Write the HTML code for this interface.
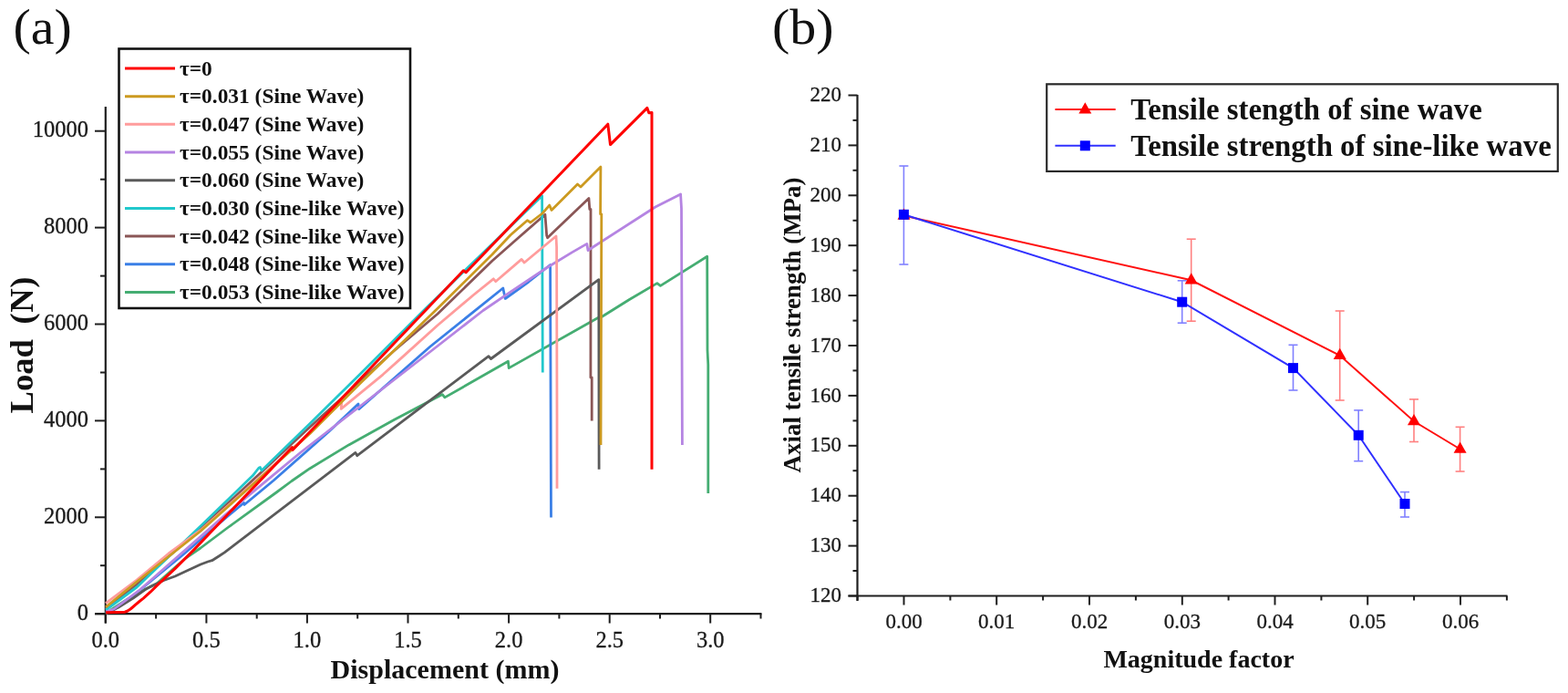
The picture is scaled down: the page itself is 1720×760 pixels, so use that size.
<!DOCTYPE html>
<html><head><meta charset="utf-8"><title>Figure</title><style>html,body{margin:0;padding:0;background:#fff;}
svg{display:block}
text{font-family:&quot;Liberation Serif&quot;,&quot;Times New Roman&quot;,serif;fill:#1a1a1a}
.tk{font-size:24.5px;stroke:#1a1a1a;stroke-width:0.3px}
.tkb{font-size:23px;stroke:#1a1a1a;stroke-width:0.3px}
.lg{font-size:23.4px;font-weight:bold;fill:#111}
.lgb{font-size:32.85px;font-weight:bold;fill:#111}
.ttA{font-size:36.6px;font-weight:bold;fill:#111}
.ttX{font-size:30px;font-weight:bold;fill:#111}
.ttB{font-size:27px;font-weight:bold;fill:#111}
.ttM{font-size:28px;font-weight:bold;fill:#111}
.pl{font-size:56px;fill:#111}
</style></head>
<body><svg width="1720" height="760" viewBox="0 0 1720 760">
<rect width="1720" height="760" fill="#fff"/>
<line x1="115.8" y1="117" x2="115.8" y2="683.5" stroke="#1e1e1e" stroke-width="2.2"/>
<line x1="104" y1="673.2" x2="835.5" y2="673.2" stroke="#1e1e1e" stroke-width="2.2"/>
<line x1="104" y1="673.2" x2="115.8" y2="673.2" stroke="#1e1e1e" stroke-width="2"/>
<text x="97" y="679.6" text-anchor="end" class="tk">0</text>
<line x1="110" y1="620.2" x2="115.8" y2="620.2" stroke="#1e1e1e" stroke-width="2"/>
<line x1="104" y1="567.3" x2="115.8" y2="567.3" stroke="#1e1e1e" stroke-width="2"/>
<text x="97" y="573.7" text-anchor="end" class="tk">2000</text>
<line x1="110" y1="514.4" x2="115.8" y2="514.4" stroke="#1e1e1e" stroke-width="2"/>
<line x1="104" y1="461.4" x2="115.8" y2="461.4" stroke="#1e1e1e" stroke-width="2"/>
<text x="97" y="467.8" text-anchor="end" class="tk">4000</text>
<line x1="110" y1="408.5" x2="115.8" y2="408.5" stroke="#1e1e1e" stroke-width="2"/>
<line x1="104" y1="355.5" x2="115.8" y2="355.5" stroke="#1e1e1e" stroke-width="2"/>
<text x="97" y="361.9" text-anchor="end" class="tk">6000</text>
<line x1="110" y1="302.6" x2="115.8" y2="302.6" stroke="#1e1e1e" stroke-width="2"/>
<line x1="104" y1="249.6" x2="115.8" y2="249.6" stroke="#1e1e1e" stroke-width="2"/>
<text x="97" y="256.0" text-anchor="end" class="tk">8000</text>
<line x1="110" y1="196.7" x2="115.8" y2="196.7" stroke="#1e1e1e" stroke-width="2"/>
<line x1="104" y1="143.7" x2="115.8" y2="143.7" stroke="#1e1e1e" stroke-width="2"/>
<text x="97" y="150.1" text-anchor="end" class="tk">10000</text>
<line x1="115.8" y1="673.2" x2="115.8" y2="683.5" stroke="#1e1e1e" stroke-width="2"/>
<text x="115.8" y="710" text-anchor="middle" class="tk">0.0</text>
<line x1="171.1" y1="673.2" x2="171.1" y2="678.5" stroke="#1e1e1e" stroke-width="2"/>
<line x1="226.4" y1="673.2" x2="226.4" y2="683.5" stroke="#1e1e1e" stroke-width="2"/>
<text x="226.4" y="710" text-anchor="middle" class="tk">0.5</text>
<line x1="281.7" y1="673.2" x2="281.7" y2="678.5" stroke="#1e1e1e" stroke-width="2"/>
<line x1="336.9" y1="673.2" x2="336.9" y2="683.5" stroke="#1e1e1e" stroke-width="2"/>
<text x="336.9" y="710" text-anchor="middle" class="tk">1.0</text>
<line x1="392.2" y1="673.2" x2="392.2" y2="678.5" stroke="#1e1e1e" stroke-width="2"/>
<line x1="447.5" y1="673.2" x2="447.5" y2="683.5" stroke="#1e1e1e" stroke-width="2"/>
<text x="447.5" y="710" text-anchor="middle" class="tk">1.5</text>
<line x1="502.8" y1="673.2" x2="502.8" y2="678.5" stroke="#1e1e1e" stroke-width="2"/>
<line x1="558.1" y1="673.2" x2="558.1" y2="683.5" stroke="#1e1e1e" stroke-width="2"/>
<text x="558.1" y="710" text-anchor="middle" class="tk">2.0</text>
<line x1="613.4" y1="673.2" x2="613.4" y2="678.5" stroke="#1e1e1e" stroke-width="2"/>
<line x1="668.7" y1="673.2" x2="668.7" y2="683.5" stroke="#1e1e1e" stroke-width="2"/>
<text x="668.7" y="710" text-anchor="middle" class="tk">2.5</text>
<line x1="724.0" y1="673.2" x2="724.0" y2="678.5" stroke="#1e1e1e" stroke-width="2"/>
<line x1="779.2" y1="673.2" x2="779.2" y2="683.5" stroke="#1e1e1e" stroke-width="2"/>
<text x="779.2" y="710" text-anchor="middle" class="tk">3.0</text>
<line x1="834.5" y1="673.2" x2="834.5" y2="678.5" stroke="#1e1e1e" stroke-width="2"/>
<polyline points="116.0,672.5 140.0,657.0 160.0,646.0 171.9,640.0 190.0,624.0 203.4,612.3 220.0,601.0 250.0,578.5 303.2,540.0 320.0,527.5 340.0,513.7 382.6,487.9 432.6,460.3 485.3,432.6 487.9,435.9 557.4,396.3 558.2,403.6 656.0,348.5 660.0,347.5 690.0,328.8 720.8,310.6 724.5,313.4 775.7,281.2 776.0,384.0 776.8,400.0 776.8,541.0" fill="none" stroke="#45ad72" stroke-width="2.8" stroke-linejoin="round" stroke-linecap="butt"/>
<polyline points="116.0,672.5 124.0,669.4 150.0,650.0 200.0,609.0 250.0,566.0 267.5,551.5 268.0,553.5 300.0,527.0 360.0,474.0 393.0,443.0 393.7,448.7 472.0,380.0 551.8,316.0 554.2,327.5 580.0,309.0 603.6,290.5 604.5,567.4" fill="none" stroke="#3a7fe6" stroke-width="2.8" stroke-linejoin="round" stroke-linecap="butt"/>
<polyline points="116.0,667.5 150.0,641.0 220.0,579.7 340.0,468.3 431.0,385.7 480.0,344.2 540.0,286.0 569.5,260.0 597.9,235.2 599.7,258.3 600.6,260.7 645.9,217.4 646.8,229.5 648.0,229.5 647.9,414.0 649.2,414.0 649.2,461.6" fill="none" stroke="#8a5656" stroke-width="2.8" stroke-linejoin="round" stroke-linecap="butt"/>
<polyline points="116.0,669.0 150.0,644.0 220.0,577.0 277.3,521.6 284.0,513.0 285.4,512.5 287.0,516.0 340.0,464.5 395.3,410.0 467.0,338.2 560.0,248.2 594.6,214.8 595.3,408.4" fill="none" stroke="#22c8cc" stroke-width="2.8" stroke-linejoin="round" stroke-linecap="butt"/>
<polyline points="116.0,673.0 130.0,666.0 146.0,656.0 160.0,646.0 166.7,642.4 179.6,636.5 192.0,632.0 220.0,619.0 228.0,616.0 232.6,614.7 240.0,610.0 246.3,605.8 389.9,496.4 391.8,499.7 536.0,390.7 538.5,393.5 656.8,306.7 657.1,514.7" fill="none" stroke="#5a5a5a" stroke-width="2.8" stroke-linejoin="round" stroke-linecap="butt"/>
<polyline points="116.0,671.0 125.0,668.0 152.4,647.7 248.3,563.6 330.0,496.0 479.3,380.0 530.0,340.5 560.0,320.1 600.0,293.5 627.3,276.9 643.8,267.4 645.0,274.5 718.9,227.0 746.6,213.0 747.5,228.7 748.4,487.9" fill="none" stroke="#b584e2" stroke-width="2.8" stroke-linejoin="round" stroke-linecap="butt"/>
<polyline points="116.0,661.7 150.0,636.0 185.0,607.0 220.0,581.5 280.0,528.0 340.0,474.5 374.8,440.5 374.2,448.3 420.0,410.8 440.0,392.9 480.0,356.7 520.0,323.0 541.3,305.8 543.7,308.7 572.1,284.4 575.1,288.0 610.0,259.0 610.6,271.0 611.0,455.0 611.0,535.8" fill="none" stroke="#ff9c9c" stroke-width="2.8" stroke-linejoin="round" stroke-linecap="butt"/>
<polyline points="116.0,665.8 150.0,638.0 220.0,582.5 280.0,529.0 340.0,475.5 395.5,420.0 480.0,338.3 540.0,279.0 560.0,257.7 578.4,241.7 581.9,244.0 595.0,234.0 602.7,225.1 605.0,230.4 633.5,202.0 637.0,205.0 658.9,183.0 658.6,234.8 659.8,234.8 659.0,487.9" fill="none" stroke="#cc9a20" stroke-width="2.8" stroke-linejoin="round" stroke-linecap="butt"/>
<polyline points="116.0,671.8 137.0,671.2 140.0,670.0 143.0,668.0 146.0,665.5 149.0,662.9 153.0,659.5 157.3,656.1 165.0,649.2 171.9,642.4 192.0,623.6 212.0,603.6 320.4,490.5 321.0,493.5 508.3,296.8 511.2,298.8 666.8,136.2 669.5,158.6 709.9,118.4 711.8,123.7 715.0,123.4 715.0,514.7" fill="none" stroke="#ff0000" stroke-width="3" stroke-linejoin="round" stroke-linecap="butt"/>
<rect x="130.5" y="53.5" width="319.5" height="284.5" fill="#fff" stroke="#111" stroke-width="2.6"/>
<line x1="137" y1="75.0" x2="192" y2="75.0" stroke="#ff0000" stroke-width="3"/>
<text x="197" y="82.6" class="lg">τ=0</text>
<line x1="137" y1="105.7" x2="192" y2="105.7" stroke="#cc9a20" stroke-width="3"/>
<text x="197" y="113.3" class="lg">τ=0.031 (Sine Wave)</text>
<line x1="137" y1="136.3" x2="192" y2="136.3" stroke="#ff9c9c" stroke-width="3"/>
<text x="197" y="143.9" class="lg">τ=0.047 (Sine Wave)</text>
<line x1="137" y1="167.0" x2="192" y2="167.0" stroke="#b584e2" stroke-width="3"/>
<text x="197" y="174.6" class="lg">τ=0.055 (Sine Wave)</text>
<line x1="137" y1="197.7" x2="192" y2="197.7" stroke="#5a5a5a" stroke-width="3"/>
<text x="197" y="205.3" class="lg">τ=0.060 (Sine Wave)</text>
<line x1="137" y1="228.4" x2="192" y2="228.4" stroke="#22c8cc" stroke-width="3"/>
<text x="197" y="236.0" class="lg">τ=0.030 (Sine-like Wave)</text>
<line x1="137" y1="259.0" x2="192" y2="259.0" stroke="#8a5656" stroke-width="3"/>
<text x="197" y="266.6" class="lg">τ=0.042 (Sine-like Wave)</text>
<line x1="137" y1="289.7" x2="192" y2="289.7" stroke="#3a7fe6" stroke-width="3"/>
<text x="197" y="297.3" class="lg">τ=0.048 (Sine-like Wave)</text>
<line x1="137" y1="320.4" x2="192" y2="320.4" stroke="#45ad72" stroke-width="3"/>
<text x="197" y="328.0" class="lg">τ=0.053 (Sine-like Wave)</text>
<text transform="translate(36.3,453.5) rotate(-90)" class="ttA">Load</text>
<text transform="translate(36.3,355.5) rotate(-90)" class="ttA" style="letter-spacing:0.6px">(N)</text>
<text x="488" y="743.8" text-anchor="middle" class="ttX">Displacement (mm)</text>
<text transform="translate(14.4,47.8) scale(1.035,0.975)" class="pl">(a)</text>
<text transform="translate(846.9,47.8) scale(1.035,0.975)" class="pl">(b)</text>
<line x1="940.5" y1="104" x2="940.5" y2="659" stroke="#1e1e1e" stroke-width="2.2"/>
<line x1="930.5" y1="653.5" x2="1653.5" y2="653.5" stroke="#1e1e1e" stroke-width="2.2"/>
<line x1="930.5" y1="653.5" x2="940.5" y2="653.5" stroke="#1e1e1e" stroke-width="2"/>
<text x="923" y="660.1" text-anchor="end" class="tkb">120</text>
<line x1="935.5" y1="626.0" x2="940.5" y2="626.0" stroke="#1e1e1e" stroke-width="2"/>
<line x1="930.5" y1="598.6" x2="940.5" y2="598.6" stroke="#1e1e1e" stroke-width="2"/>
<text x="923" y="605.2" text-anchor="end" class="tkb">130</text>
<line x1="935.5" y1="571.1" x2="940.5" y2="571.1" stroke="#1e1e1e" stroke-width="2"/>
<line x1="930.5" y1="543.7" x2="940.5" y2="543.7" stroke="#1e1e1e" stroke-width="2"/>
<text x="923" y="550.3" text-anchor="end" class="tkb">140</text>
<line x1="935.5" y1="516.2" x2="940.5" y2="516.2" stroke="#1e1e1e" stroke-width="2"/>
<line x1="930.5" y1="488.8" x2="940.5" y2="488.8" stroke="#1e1e1e" stroke-width="2"/>
<text x="923" y="495.4" text-anchor="end" class="tkb">150</text>
<line x1="935.5" y1="461.4" x2="940.5" y2="461.4" stroke="#1e1e1e" stroke-width="2"/>
<line x1="930.5" y1="433.9" x2="940.5" y2="433.9" stroke="#1e1e1e" stroke-width="2"/>
<text x="923" y="440.5" text-anchor="end" class="tkb">160</text>
<line x1="935.5" y1="406.4" x2="940.5" y2="406.4" stroke="#1e1e1e" stroke-width="2"/>
<line x1="930.5" y1="379.0" x2="940.5" y2="379.0" stroke="#1e1e1e" stroke-width="2"/>
<text x="923" y="385.6" text-anchor="end" class="tkb">170</text>
<line x1="935.5" y1="351.6" x2="940.5" y2="351.6" stroke="#1e1e1e" stroke-width="2"/>
<line x1="930.5" y1="324.1" x2="940.5" y2="324.1" stroke="#1e1e1e" stroke-width="2"/>
<text x="923" y="330.7" text-anchor="end" class="tkb">180</text>
<line x1="935.5" y1="296.6" x2="940.5" y2="296.6" stroke="#1e1e1e" stroke-width="2"/>
<line x1="930.5" y1="269.2" x2="940.5" y2="269.2" stroke="#1e1e1e" stroke-width="2"/>
<text x="923" y="275.8" text-anchor="end" class="tkb">190</text>
<line x1="935.5" y1="241.8" x2="940.5" y2="241.8" stroke="#1e1e1e" stroke-width="2"/>
<line x1="930.5" y1="214.3" x2="940.5" y2="214.3" stroke="#1e1e1e" stroke-width="2"/>
<text x="923" y="220.9" text-anchor="end" class="tkb">200</text>
<line x1="935.5" y1="186.8" x2="940.5" y2="186.8" stroke="#1e1e1e" stroke-width="2"/>
<line x1="930.5" y1="159.4" x2="940.5" y2="159.4" stroke="#1e1e1e" stroke-width="2"/>
<text x="923" y="166.0" text-anchor="end" class="tkb">210</text>
<line x1="935.5" y1="131.9" x2="940.5" y2="131.9" stroke="#1e1e1e" stroke-width="2"/>
<line x1="930.5" y1="104.5" x2="940.5" y2="104.5" stroke="#1e1e1e" stroke-width="2"/>
<text x="923" y="111.1" text-anchor="end" class="tkb">220</text>
<line x1="940.6" y1="653.5" x2="940.6" y2="658.5" stroke="#1e1e1e" stroke-width="2"/>
<line x1="991.5" y1="653.5" x2="991.5" y2="663.5" stroke="#1e1e1e" stroke-width="2"/>
<text x="991.5" y="689" text-anchor="middle" class="tkb">0.00</text>
<line x1="1042.4" y1="653.5" x2="1042.4" y2="658.5" stroke="#1e1e1e" stroke-width="2"/>
<line x1="1093.2" y1="653.5" x2="1093.2" y2="663.5" stroke="#1e1e1e" stroke-width="2"/>
<text x="1093.2" y="689" text-anchor="middle" class="tkb">0.01</text>
<line x1="1144.1" y1="653.5" x2="1144.1" y2="658.5" stroke="#1e1e1e" stroke-width="2"/>
<line x1="1195.0" y1="653.5" x2="1195.0" y2="663.5" stroke="#1e1e1e" stroke-width="2"/>
<text x="1195.0" y="689" text-anchor="middle" class="tkb">0.02</text>
<line x1="1245.9" y1="653.5" x2="1245.9" y2="658.5" stroke="#1e1e1e" stroke-width="2"/>
<line x1="1296.8" y1="653.5" x2="1296.8" y2="663.5" stroke="#1e1e1e" stroke-width="2"/>
<text x="1296.8" y="689" text-anchor="middle" class="tkb">0.03</text>
<line x1="1347.6" y1="653.5" x2="1347.6" y2="658.5" stroke="#1e1e1e" stroke-width="2"/>
<line x1="1398.5" y1="653.5" x2="1398.5" y2="663.5" stroke="#1e1e1e" stroke-width="2"/>
<text x="1398.5" y="689" text-anchor="middle" class="tkb">0.04</text>
<line x1="1449.4" y1="653.5" x2="1449.4" y2="658.5" stroke="#1e1e1e" stroke-width="2"/>
<line x1="1500.2" y1="653.5" x2="1500.2" y2="663.5" stroke="#1e1e1e" stroke-width="2"/>
<text x="1500.2" y="689" text-anchor="middle" class="tkb">0.05</text>
<line x1="1551.1" y1="653.5" x2="1551.1" y2="658.5" stroke="#1e1e1e" stroke-width="2"/>
<line x1="1602.0" y1="653.5" x2="1602.0" y2="663.5" stroke="#1e1e1e" stroke-width="2"/>
<text x="1602.0" y="689" text-anchor="middle" class="tkb">0.06</text>
<line x1="1652.9" y1="653.5" x2="1652.9" y2="658.5" stroke="#1e1e1e" stroke-width="2"/>
<line x1="1306.7" y1="262.2" x2="1306.7" y2="352.2" stroke="#ff8080" stroke-width="1.6"/>
<line x1="1301.7" y1="262.2" x2="1311.7" y2="262.2" stroke="#ff8080" stroke-width="1.6"/>
<line x1="1301.7" y1="352.2" x2="1311.7" y2="352.2" stroke="#ff8080" stroke-width="1.6"/>
<line x1="1469.7" y1="341" x2="1469.7" y2="439" stroke="#ff8080" stroke-width="1.6"/>
<line x1="1464.7" y1="341" x2="1474.7" y2="341" stroke="#ff8080" stroke-width="1.6"/>
<line x1="1464.7" y1="439" x2="1474.7" y2="439" stroke="#ff8080" stroke-width="1.6"/>
<line x1="1551.0" y1="437.9" x2="1551.0" y2="484.5" stroke="#ff8080" stroke-width="1.6"/>
<line x1="1546.0" y1="437.9" x2="1556.0" y2="437.9" stroke="#ff8080" stroke-width="1.6"/>
<line x1="1546.0" y1="484.5" x2="1556.0" y2="484.5" stroke="#ff8080" stroke-width="1.6"/>
<line x1="1601.6" y1="468.3" x2="1601.6" y2="517" stroke="#ff8080" stroke-width="1.6"/>
<line x1="1596.6" y1="468.3" x2="1606.6" y2="468.3" stroke="#ff8080" stroke-width="1.6"/>
<line x1="1596.6" y1="517" x2="1606.6" y2="517" stroke="#ff8080" stroke-width="1.6"/>
<line x1="991.4" y1="182" x2="991.4" y2="290" stroke="#8080ff" stroke-width="1.6"/>
<line x1="986.4" y1="182" x2="996.4" y2="182" stroke="#8080ff" stroke-width="1.6"/>
<line x1="986.4" y1="290" x2="996.4" y2="290" stroke="#8080ff" stroke-width="1.6"/>
<line x1="1296.7" y1="307.8" x2="1296.7" y2="354.2" stroke="#8080ff" stroke-width="1.6"/>
<line x1="1291.7" y1="307.8" x2="1301.7" y2="307.8" stroke="#8080ff" stroke-width="1.6"/>
<line x1="1291.7" y1="354.2" x2="1301.7" y2="354.2" stroke="#8080ff" stroke-width="1.6"/>
<line x1="1418.5" y1="378.3" x2="1418.5" y2="428" stroke="#8080ff" stroke-width="1.6"/>
<line x1="1413.5" y1="378.3" x2="1423.5" y2="378.3" stroke="#8080ff" stroke-width="1.6"/>
<line x1="1413.5" y1="428" x2="1423.5" y2="428" stroke="#8080ff" stroke-width="1.6"/>
<line x1="1490.2" y1="449.9" x2="1490.2" y2="505.7" stroke="#8080ff" stroke-width="1.6"/>
<line x1="1485.2" y1="449.9" x2="1495.2" y2="449.9" stroke="#8080ff" stroke-width="1.6"/>
<line x1="1485.2" y1="505.7" x2="1495.2" y2="505.7" stroke="#8080ff" stroke-width="1.6"/>
<line x1="1541" y1="539.6" x2="1541" y2="567" stroke="#8080ff" stroke-width="1.6"/>
<line x1="1536" y1="539.6" x2="1546" y2="539.6" stroke="#8080ff" stroke-width="1.6"/>
<line x1="1536" y1="567" x2="1546" y2="567" stroke="#8080ff" stroke-width="1.6"/>
<polyline points="991.5,236.5 1306.7,307.3 1469.7,389.8 1551.0,462 1601.6,492.5" fill="none" stroke="#ff1010" stroke-width="2"/>
<polyline points="991.4,235.3 1296.7,331.2 1418.5,403.6 1490.2,477.3 1541,552.5" fill="none" stroke="#3030ff" stroke-width="2"/>
<polygon points="984.5,240.7 998.5,240.7 991.5,228.5" fill="#ff0000"/>
<polygon points="1299.7,311.5 1313.7,311.5 1306.7,299.3" fill="#ff0000"/>
<polygon points="1462.7,394.0 1476.7,394.0 1469.7,381.8" fill="#ff0000"/>
<polygon points="1544.0,466.2 1558.0,466.2 1551.0,454" fill="#ff0000"/>
<polygon points="1594.6,496.7 1608.6,496.7 1601.6,484.5" fill="#ff0000"/>
<rect x="985.9" y="229.8" width="11" height="11" fill="#0000ff"/>
<rect x="1291.2" y="325.7" width="11" height="11" fill="#0000ff"/>
<rect x="1413.0" y="398.1" width="11" height="11" fill="#0000ff"/>
<rect x="1484.7" y="471.8" width="11" height="11" fill="#0000ff"/>
<rect x="1535.5" y="547.0" width="11" height="11" fill="#0000ff"/>
<rect x="1148.2" y="92.3" width="560.6" height="95.6" fill="#fff" stroke="#2a2a2a" stroke-width="2.2"/>
<line x1="1157.4" y1="120" x2="1223.7" y2="120" stroke="#ff1010" stroke-width="2"/>
<polygon points="1183.3,124.4 1197.3,124.4 1190.3,112.2" fill="#ff0000"/>
<line x1="1157.4" y1="159.8" x2="1223.7" y2="159.8" stroke="#3030ff" stroke-width="2"/>
<rect x="1184.8" y="154.3" width="11" height="11" fill="#0000ff"/>
<text x="1240.3" y="131.3" class="lgb">Tensile stength of sine wave</text>
<text x="1240.3" y="171.3" class="lgb">Tensile strength of sine-like wave</text>
<text transform="translate(878,356.5) rotate(-90)" text-anchor="middle" class="ttB">Axial tensile strength (MPa)</text>
<text x="1315" y="732.4" text-anchor="middle" class="ttM">Magnitude factor</text>
</svg></body></html>
